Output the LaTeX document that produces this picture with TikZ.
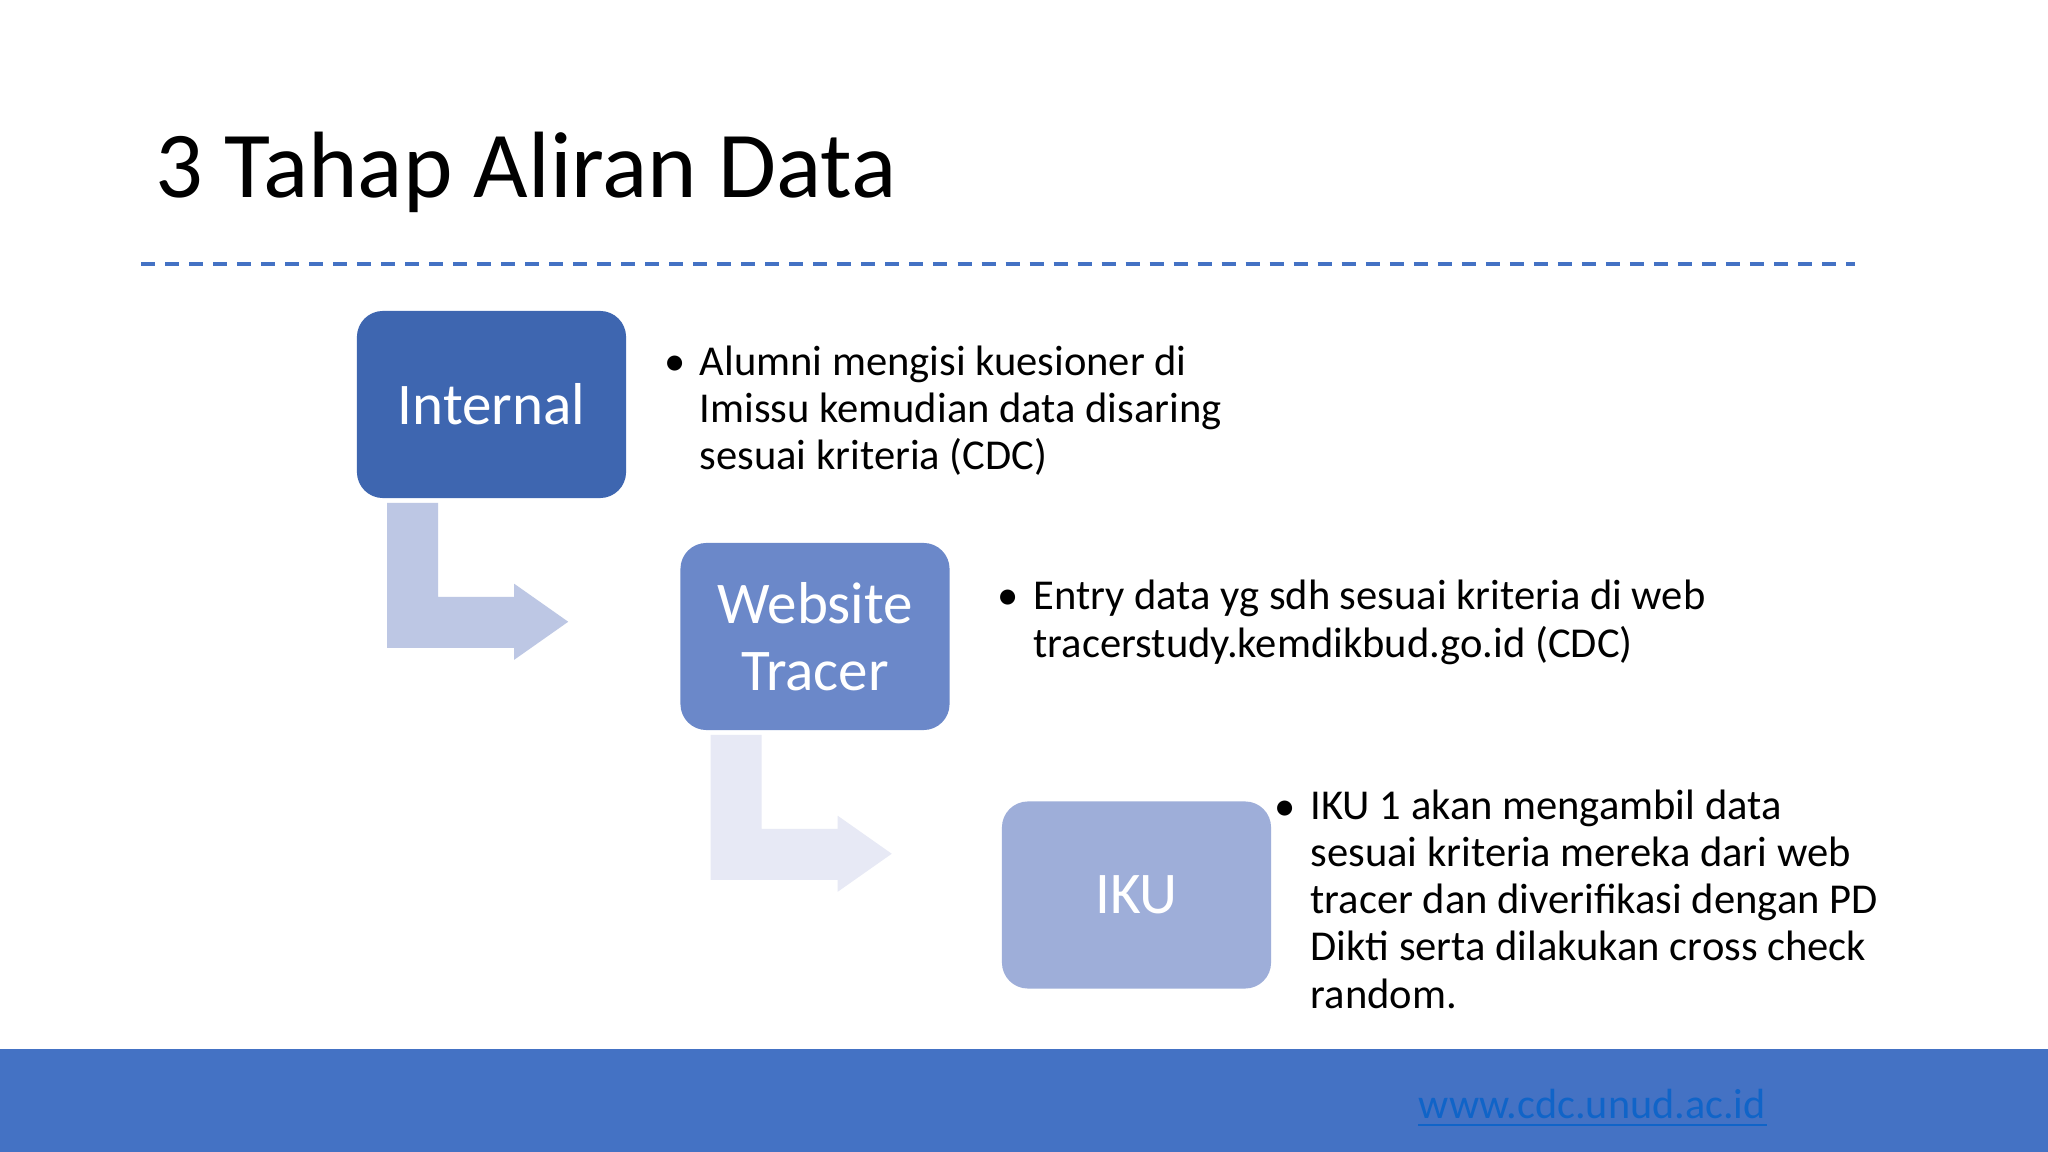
\documentclass[tikz,border=0pt]{standalone}
\usepackage{fontspec}
\setmainfont{Carlito}
\definecolor{band}{HTML}{4472C4}
\definecolor{boxA}{HTML}{3E66B0}
\definecolor{boxB}{HTML}{6B88C9}
\definecolor{boxC}{HTML}{9EAED9}
\definecolor{arrA}{HTML}{BDC7E4}
\definecolor{arrB}{HTML}{E7E9F5}
\definecolor{linkcol}{HTML}{1064C8}
\tikzset{
  stagebox/.style={rectangle, rounded corners=0.26cm, inner sep=0pt,
    minimum width=2.69cm, minimum height=1.87cm, text=white, align=center,
    font=\fontsize{16.8}{19}\selectfont},
  bulletdot/.style={anchor=base west, inner sep=0pt, font=\fontsize{12.1}{13.4}\selectfont},
  bullettext/.style={anchor=base west, inner sep=0pt, align=left,
    font=\fontsize{12.1}{13.4}\selectfont},
  pics/bentarrow/.style={code={
    \fill[#1] (31,4) -- (82,4) -- (82,98) -- (158,98) -- (158,85) -- (212,123)
      -- (158,161) -- (158,149) -- (31,149) -- cycle;}}
}
\begin{document}
\begin{tikzpicture}[x=0.01cm, y=-0.01cm]
\useasboundingbox (0,0) rectangle (2048,1152);
\fill[white] (0,0) rectangle (2048,1152);
% bottom band
\fill[band] (0,1049) rectangle (2048,1152);
% title
\node[anchor=base west, inner sep=0pt, font=\fontsize{26.8}{30}\selectfont] (title) at (155,198) {3 Tahap Aliran Data};
% dashed rule
\draw[band, line width=1pt, dash pattern=on 0.14cm off 0.10cm] (141,264) -- (1855,264);
% stage boxes
\node[stagebox, fill=boxA] (internal) at (491.5,404.5) {Internal};
\node[stagebox, fill=boxB] (website) at (815,636.5) {Website\\Tracer};
\node[stagebox, fill=boxC] (iku) at (1136.5,895) {IKU};
% bent arrows
\pic at (internal.south west) {bentarrow=arrA};
\pic at (website.south west) {bentarrow=arrB};
% bullet texts (node base = last line)
\node[bulletdot] (b1) at (664,376) {\textbullet};
\node[bullettext] (t1) at (699,470) {Alumni mengisi kuesioner di\\Imissu kemudian data disaring\\sesuai kriteria (CDC)};
\node[bulletdot] (b2) at (997,610) {\textbullet};
\node[bullettext] (t2) at (1033,657) {Entry data yg sdh sesuai kriteria di web\\tracerstudy.kemdikbud.go.id (CDC)};
\node[bulletdot] (b3) at (1274,820) {\textbullet};
\node[bullettext] (t3) at (1310,1008) {IKU 1 akan mengambil data\\sesuai kriteria mereka dari web\\tracer dan diverifikasi dengan PD\\Dikti serta dilakukan cross check\\random.};
% link
\node[anchor=base west, inner sep=0pt, text=linkcol, font=\fontsize{12}{14}\selectfont] (link) at (1418,1118) {www.cdc.unud.ac.id};
\draw[linkcol, line width=0.7pt] ([yshift=-0.07cm]link.base west) -- ([yshift=-0.07cm]link.base east);
\end{tikzpicture}
\end{document}
